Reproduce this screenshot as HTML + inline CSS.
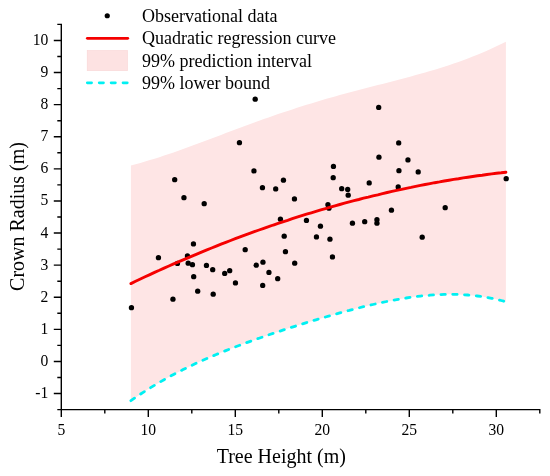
<!DOCTYPE html>
<html><head><meta charset="utf-8"><title>Crown Radius vs Tree Height</title>
<style>html,body{margin:0;padding:0;background:#fff}svg{display:block}text{font-family:"Liberation Serif","Times New Roman",serif;fill:#000}</style></head><body>
<svg width="550" height="476" viewBox="0 0 550 476">
<rect width="550" height="476" fill="#fff"/>
<path d="M130.9,165.4 L135.6,164.2 L140.4,162.9 L145.1,161.5 L149.9,160.1 L154.6,158.7 L159.4,157.2 L164.1,155.6 L168.9,154.0 L173.6,152.4 L178.4,150.7 L183.1,149.0 L187.9,147.3 L192.6,145.6 L197.4,143.8 L202.1,142.0 L206.9,140.2 L211.6,138.5 L216.3,136.7 L221.1,134.9 L225.8,133.1 L230.6,131.3 L235.3,129.5 L240.1,127.7 L244.8,126.0 L249.6,124.2 L254.3,122.5 L259.1,120.8 L263.8,119.1 L268.6,117.4 L273.3,115.7 L278.1,114.1 L282.8,112.5 L287.6,110.9 L292.3,109.4 L297.0,107.8 L301.8,106.3 L306.5,104.8 L311.3,103.4 L316.0,101.9 L320.8,100.5 L325.5,99.1 L330.3,97.8 L335.0,96.4 L339.8,95.1 L344.5,93.8 L349.3,92.5 L354.0,91.3 L358.8,90.0 L363.5,88.8 L368.3,87.5 L373.0,86.3 L377.8,85.1 L382.5,83.9 L387.2,82.7 L392.0,81.4 L396.7,80.2 L401.5,79.0 L406.2,77.7 L411.0,76.4 L415.7,75.1 L420.5,73.8 L425.2,72.5 L430.0,71.1 L434.7,69.7 L439.5,68.2 L444.2,66.7 L449.0,65.2 L453.7,63.6 L458.5,61.9 L463.2,60.2 L467.9,58.4 L472.7,56.6 L477.4,54.7 L482.2,52.7 L486.9,50.7 L491.7,48.5 L496.4,46.3 L501.2,44.0 L505.9,41.7 L505.9,301.8 L501.2,300.5 L496.4,299.3 L491.7,298.3 L486.9,297.4 L482.2,296.6 L477.4,296.0 L472.7,295.4 L467.9,295.0 L463.2,294.7 L458.5,294.4 L453.7,294.3 L449.0,294.3 L444.2,294.4 L439.5,294.6 L434.7,294.8 L430.0,295.2 L425.2,295.6 L420.5,296.1 L415.7,296.6 L411.0,297.3 L406.2,298.0 L401.5,298.8 L396.7,299.6 L392.0,300.5 L387.2,301.4 L382.5,302.4 L377.8,303.4 L373.0,304.5 L368.3,305.6 L363.5,306.7 L358.8,307.9 L354.0,309.1 L349.3,310.4 L344.5,311.6 L339.8,312.9 L335.0,314.3 L330.3,315.6 L325.5,317.0 L320.8,318.4 L316.0,319.8 L311.3,321.2 L306.5,322.6 L301.8,324.1 L297.0,325.6 L292.3,327.1 L287.6,328.6 L282.8,330.2 L278.1,331.7 L273.3,333.3 L268.6,334.9 L263.8,336.6 L259.1,338.2 L254.3,339.9 L249.6,341.6 L244.8,343.3 L240.1,345.1 L235.3,346.9 L230.6,348.7 L225.8,350.6 L221.1,352.5 L216.3,354.5 L211.6,356.5 L206.9,358.5 L202.1,360.6 L197.4,362.7 L192.6,365.0 L187.9,367.2 L183.1,369.6 L178.4,372.0 L173.6,374.5 L168.9,377.0 L164.1,379.7 L159.4,382.4 L154.6,385.2 L149.9,388.1 L145.1,391.1 L140.4,394.2 L135.6,397.4 L130.9,400.7Z" fill="#fee5e5"/>
<path d="M130.9,400.7 L135.6,397.4 L140.4,394.2 L145.1,391.1 L149.9,388.1 L154.6,385.2 L159.4,382.4 L164.1,379.7 L168.9,377.0 L173.6,374.5 L178.4,372.0 L183.1,369.6 L187.9,367.2 L192.6,365.0 L197.4,362.7 L202.1,360.6 L206.9,358.5 L211.6,356.5 L216.3,354.5 L221.1,352.5 L225.8,350.6 L230.6,348.7 L235.3,346.9 L240.1,345.1 L244.8,343.3 L249.6,341.6 L254.3,339.9 L259.1,338.2 L263.8,336.6 L268.6,334.9 L273.3,333.3 L278.1,331.7 L282.8,330.2 L287.6,328.6 L292.3,327.1 L297.0,325.6 L301.8,324.1 L306.5,322.6 L311.3,321.2 L316.0,319.8 L320.8,318.4 L325.5,317.0 L330.3,315.6 L335.0,314.3 L339.8,312.9 L344.5,311.6 L349.3,310.4 L354.0,309.1 L358.8,307.9 L363.5,306.7 L368.3,305.6 L373.0,304.5 L377.8,303.4 L382.5,302.4 L387.2,301.4 L392.0,300.5 L396.7,299.6 L401.5,298.8 L406.2,298.0 L411.0,297.3 L415.7,296.6 L420.5,296.1 L425.2,295.6 L430.0,295.2 L434.7,294.8 L439.5,294.6 L444.2,294.4 L449.0,294.3 L453.7,294.3 L458.5,294.4 L463.2,294.7 L467.9,295.0 L472.7,295.4 L477.4,296.0 L482.2,296.6 L486.9,297.4 L491.7,298.3 L496.4,299.3 L501.2,300.5 L505.9,301.8" fill="none" stroke="#00f0f2" stroke-width="2.8" stroke-dasharray="4.4 7.41" stroke-linecap="round"/>
<g fill="#000"><circle cx="131.45" cy="307.70" r="2.65"/><circle cx="158.45" cy="257.70" r="2.65"/><circle cx="193.45" cy="243.95" r="2.65"/><circle cx="187.45" cy="255.95" r="2.65"/><circle cx="177.45" cy="263.45" r="2.65"/><circle cx="188.20" cy="263.20" r="2.65"/><circle cx="192.45" cy="264.70" r="2.65"/><circle cx="206.45" cy="265.45" r="2.65"/><circle cx="212.70" cy="269.70" r="2.65"/><circle cx="224.70" cy="273.45" r="2.65"/><circle cx="229.70" cy="270.70" r="2.65"/><circle cx="193.70" cy="276.70" r="2.65"/><circle cx="197.70" cy="291.20" r="2.65"/><circle cx="213.20" cy="294.20" r="2.65"/><circle cx="172.95" cy="299.20" r="2.65"/><circle cx="235.45" cy="282.95" r="2.65"/><circle cx="245.20" cy="249.70" r="2.65"/><circle cx="256.20" cy="265.20" r="2.65"/><circle cx="262.95" cy="262.20" r="2.65"/><circle cx="268.95" cy="272.45" r="2.65"/><circle cx="262.70" cy="285.45" r="2.65"/><circle cx="277.70" cy="278.70" r="2.65"/><circle cx="280.45" cy="219.20" r="2.65"/><circle cx="284.20" cy="236.20" r="2.65"/><circle cx="285.45" cy="251.70" r="2.65"/><circle cx="294.70" cy="263.20" r="2.65"/><circle cx="306.45" cy="220.45" r="2.65"/><circle cx="316.45" cy="236.95" r="2.65"/><circle cx="320.45" cy="226.20" r="2.65"/><circle cx="329.95" cy="239.20" r="2.65"/><circle cx="332.45" cy="256.95" r="2.65"/><circle cx="327.95" cy="204.70" r="2.65"/><circle cx="328.95" cy="208.20" r="2.65"/><circle cx="352.45" cy="223.20" r="2.65"/><circle cx="364.70" cy="221.70" r="2.65"/><circle cx="376.95" cy="219.70" r="2.65"/><circle cx="376.95" cy="223.20" r="2.65"/><circle cx="391.45" cy="210.20" r="2.65"/><circle cx="445.20" cy="207.70" r="2.65"/><circle cx="422.20" cy="237.20" r="2.65"/><circle cx="255.20" cy="99.20" r="2.65"/><circle cx="239.45" cy="142.70" r="2.65"/><circle cx="253.95" cy="170.95" r="2.65"/><circle cx="174.70" cy="179.70" r="2.65"/><circle cx="183.95" cy="197.70" r="2.65"/><circle cx="204.20" cy="203.70" r="2.65"/><circle cx="378.70" cy="107.45" r="2.65"/><circle cx="378.95" cy="157.20" r="2.65"/><circle cx="333.45" cy="166.45" r="2.65"/><circle cx="333.20" cy="177.70" r="2.65"/><circle cx="341.70" cy="188.70" r="2.65"/><circle cx="347.70" cy="189.45" r="2.65"/><circle cx="348.20" cy="195.20" r="2.65"/><circle cx="369.20" cy="182.95" r="2.65"/><circle cx="283.45" cy="180.20" r="2.65"/><circle cx="262.45" cy="187.70" r="2.65"/><circle cx="275.70" cy="188.95" r="2.65"/><circle cx="294.45" cy="198.95" r="2.65"/><circle cx="398.70" cy="142.95" r="2.65"/><circle cx="407.95" cy="159.95" r="2.65"/><circle cx="398.95" cy="170.70" r="2.65"/><circle cx="418.20" cy="171.95" r="2.65"/><circle cx="398.20" cy="186.95" r="2.65"/><circle cx="506.20" cy="178.70" r="2.65"/></g>
<path d="M130.9,283.6 L135.6,281.3 L140.4,279.0 L145.1,276.8 L149.9,274.6 L154.6,272.4 L159.4,270.3 L164.1,268.1 L168.9,266.0 L173.6,263.9 L178.4,261.8 L183.1,259.8 L187.9,257.8 L192.6,255.8 L197.4,253.8 L202.1,251.8 L206.9,249.9 L211.6,248.0 L216.3,246.1 L221.1,244.2 L225.8,242.3 L230.6,240.5 L235.3,238.7 L240.1,236.9 L244.8,235.1 L249.6,233.4 L254.3,231.7 L259.1,230.0 L263.8,228.3 L268.6,226.7 L273.3,225.0 L278.1,223.4 L282.8,221.8 L287.6,220.3 L292.3,218.7 L297.0,217.2 L301.8,215.7 L306.5,214.2 L311.3,212.8 L316.0,211.4 L320.8,209.9 L325.5,208.6 L330.3,207.2 L335.0,205.8 L339.8,204.5 L344.5,203.2 L349.3,201.9 L354.0,200.7 L358.8,199.5 L363.5,198.2 L368.3,197.1 L373.0,195.9 L377.8,194.8 L382.5,193.6 L387.2,192.5 L392.0,191.4 L396.7,190.4 L401.5,189.4 L406.2,188.3 L411.0,187.4 L415.7,186.4 L420.5,185.4 L425.2,184.5 L430.0,183.6 L434.7,182.7 L439.5,181.9 L444.2,181.0 L449.0,180.2 L453.7,179.4 L458.5,178.7 L463.2,177.9 L467.9,177.2 L472.7,176.5 L477.4,175.8 L482.2,175.2 L486.9,174.5 L491.7,173.9 L496.4,173.3 L501.2,172.8 L505.9,172.2" fill="none" stroke="#f50000" stroke-width="2.9" stroke-linecap="round"/>
<path d="M61.3,23.699999999999978 V409.6 H540.5 M61.3,409.60 h-4 M61.3,393.55 h-7.5 M61.3,377.50 h-4 M61.3,361.45 h-7.5 M61.3,345.40 h-4 M61.3,329.35 h-7.5 M61.3,313.30 h-4 M61.3,297.25 h-7.5 M61.3,281.20 h-4 M61.3,265.15 h-7.5 M61.3,249.10 h-4 M61.3,233.05 h-7.5 M61.3,217.00 h-4 M61.3,200.95 h-7.5 M61.3,184.90 h-4 M61.3,168.85 h-7.5 M61.3,152.80 h-4 M61.3,136.75 h-7.5 M61.3,120.70 h-4 M61.3,104.65 h-7.5 M61.3,88.60 h-4 M61.3,72.55 h-7.5 M61.3,56.50 h-4 M61.3,40.45 h-7.5 M61.3,24.40 h-4 M61.30,409.6 v7.5 M104.80,409.6 v4 M148.30,409.6 v7.5 M191.80,409.6 v4 M235.30,409.6 v7.5 M278.80,409.6 v4 M322.30,409.6 v7.5 M365.80,409.6 v4 M409.30,409.6 v7.5 M452.80,409.6 v4 M496.30,409.6 v7.5 M539.80,409.6 v4" fill="none" stroke="#000" stroke-width="1.4"/>
<g font-size="17" text-anchor="end"><text transform="translate(48.4,398.1) scale(0.92,1)">-1</text><text transform="translate(48.4,365.9) scale(0.92,1)">0</text><text transform="translate(48.4,333.8) scale(0.92,1)">1</text><text transform="translate(48.4,301.8) scale(0.92,1)">2</text><text transform="translate(48.4,269.6) scale(0.92,1)">3</text><text transform="translate(48.4,237.5) scale(0.92,1)">4</text><text transform="translate(48.4,205.4) scale(0.92,1)">5</text><text transform="translate(48.4,173.3) scale(0.92,1)">6</text><text transform="translate(48.4,141.2) scale(0.92,1)">7</text><text transform="translate(48.4,109.1) scale(0.92,1)">8</text><text transform="translate(48.4,77.0) scale(0.92,1)">9</text><text transform="translate(48.4,44.9) scale(0.92,1)">10</text></g>
<g font-size="17" text-anchor="middle"><text transform="translate(61.3,434.8) scale(0.92,1)">5</text><text transform="translate(148.3,434.8) scale(0.92,1)">10</text><text transform="translate(235.3,434.8) scale(0.92,1)">15</text><text transform="translate(322.3,434.8) scale(0.92,1)">20</text><text transform="translate(409.3,434.8) scale(0.92,1)">25</text><text transform="translate(496.3,434.8) scale(0.92,1)">30</text></g>
<text x="281.3" y="463.3" font-size="20" text-anchor="middle">Tree Height (m)</text>
<text transform="translate(23.5,216.5) rotate(-90)" font-size="20" text-anchor="middle">Crown Radius (m)</text>
<circle cx="107.25" cy="15.75" r="2.6"/>
<path d="M87.3,38.3 H127.8" stroke="#f50000" stroke-width="2.7" stroke-linecap="round" fill="none"/>
<rect x="87.2" y="50.5" width="40.3" height="20.2" fill="#fde2e2" stroke="#f9d6d6" stroke-width="0.6"/>
<path d="M87.3,82.8 H128" stroke="#00f0f2" stroke-width="2.7" stroke-dasharray="4.3 7.6" stroke-linecap="round" fill="none"/>
<g font-size="18">
<text x="142" y="21.70">Observational data</text>
<text x="142" y="44.20">Quadratic regression curve</text>
<text x="142" y="67.00">99% prediction interval</text>
<text x="142" y="89.30">99% lower bound</text>
</g>
</svg></body></html>
